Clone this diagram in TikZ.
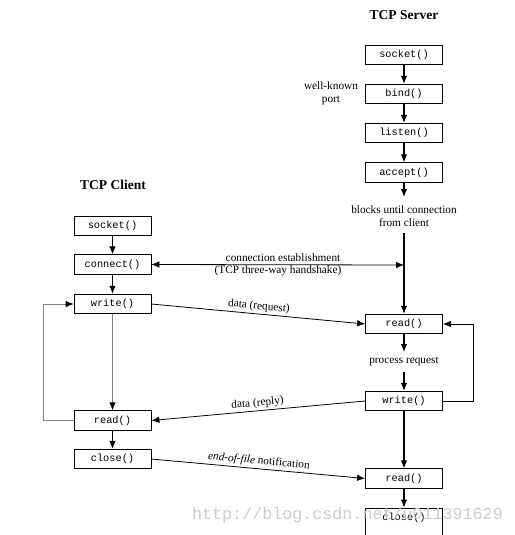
\documentclass[tikz,border=0pt]{standalone}
\usepackage{fontspec}
\setmainfont{Liberation Serif}
\newfontfamily\boxfont{Liberation Mono}
\usetikzlibrary{arrows.meta}
\begin{document}
\begin{tikzpicture}[x=1pt,y=-1pt,
  fn/.style={draw,line width=0.8pt,minimum width=77pt,minimum height=19.5pt,inner sep=0pt,font=\boxfont\fontsize{10.3}{12}\selectfont},
  lbl/.style={font=\fontsize{11.3}{13}\selectfont,inner sep=1pt},
  ttl/.style={font=\fontsize{13.5}{15}\selectfont\bfseries},
  tip/.style={-{Latex[length=8pt,width=6.5pt]}},
  flow/.style={tip,line width=1.1pt},
  thin/.style={tip,line width=0.8pt},
  grayln/.style={line width=0.8pt,gray,-{Latex[length=8pt,width=6.5pt,black]}}]
\useasboundingbox (0,0) rectangle (514,535);
\clip (0,0) rectangle (514,535);
% titles
\node[ttl] (tserv) at (404,15) {TCP Server};
\node[ttl] (tcli) at (113,185) {TCP Client};
% server boxes
\node[fn] (ssock) at (404,55) {socket()};
\node[fn] (sbind) at (404,94) {bind()};
\node[fn] (slisten) at (404,133) {listen()};
\node[fn] (saccept) at (404,172.5) {accept()};
\node[fn] (sread) at (404,324) {read()};
\node[fn] (swrite) at (404,401) {write()};
\node[fn] (sread2) at (404,478.5) {read()};
\node[fn,minimum height=32pt] (sclose) at (404,524) {};
\node[font=\boxfont\fontsize{10.3}{12}\selectfont] (sclosel) at (404,518) {close()};
% client boxes
\node[fn] (csock) at (112.5,226) {socket()};
\node[fn] (cconn) at (112.5,264.5) {connect()};
\node[fn] (cwrite) at (112.5,304) {write()};
\node[fn] (cread) at (112.5,420.5) {read()};
\node[fn] (cclose) at (112.5,459) {close()};
% server labels
\node[lbl,align=center] (wkp) at (331,93) {well-known\\port};
\node[lbl,align=center] (blk) at (404,216) {blocks until connection\\from client};
\node[lbl] (proc) at (404,362) {process request};
\coordinate (a1) at (404,197);
\coordinate (a2) at (404,233);
\coordinate (a3) at (404,352);
\coordinate (a4) at (404,372);
\coordinate (conn) at (404,265);
% server flow
\draw[flow] (ssock) -- (sbind);
\draw[flow] (sbind) -- (slisten);
\draw[flow] (slisten) -- (saccept);
\draw[flow] (saccept) -- (a1);
\draw[flow] (a2) -- (sread);
\draw[flow] (sread) -- (a3);
\draw[flow] (a4) -- (swrite);
\draw[flow] (swrite) -- (sread2);
\draw[flow] (sread2) -- (sclose.north);
\coordinate (sl) at (473,401);
\draw[thin] (swrite.east) -- (sl) |- (sread.east);
% client flow
\draw[flow] (csock) -- (cconn);
\draw[flow] (cconn) -- (cwrite);
\draw[grayln] (cwrite) -- (cread);
\draw[flow] (cread) -- (cclose);
\coordinate (cl) at (43,420.5);
\draw[grayln] (cread.west) -- (cl) |- (cwrite.west);
% exchanges
\draw[thin,{Latex[length=8pt,width=6.5pt]}-{Latex[length=8pt,width=6.5pt]}] (cconn.east) -- (conn);
\node[lbl] (ce1) at (283,258) {connection establishment};
\node[lbl] (ce2) at (278,270.5) {(TCP three-way handshake)};
\draw[thin] (cwrite.east) -- node[lbl,sloped,above=1pt] (dreq) {data (request)} (sread.west);
\draw[thin,{Latex[length=8pt,width=6.5pt]}-] (cread.east) -- node[lbl,sloped,above=1pt] (drep) {data (reply)} (swrite.west);
\draw[thin] (cclose.east) -- node[lbl,sloped,above=1pt] (eof) {\textit{end-of-file} notification} (sread2.west);
% watermark
\node[font=\boxfont\fontsize{16.7}{18}\selectfont,text=gray!40] (wm) at (347.5,515) {http://blog.csdn.net/u011391629};
\end{tikzpicture}
\end{document}
